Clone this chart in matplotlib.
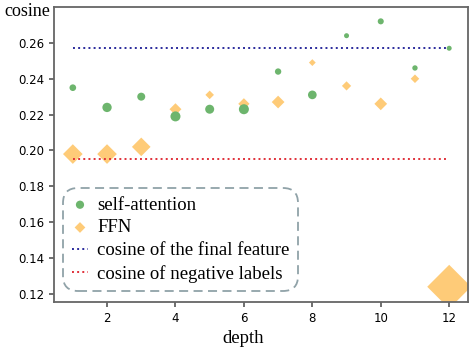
import matplotlib
matplotlib.use('Agg')
import matplotlib.pyplot as plt
import numpy as np

# depth index of each layer
depth = [1, 2, 3, 4, 5, 6, 7, 8, 9, 10, 11, 12]

# self-attention cosine and marker sizes
attn_cos = [0.235, 0.224, 0.230, 0.219, 0.223, 0.223, 0.244, 0.231, 0.264, 0.272, 0.246, 0.257]
attn_size = [23, 45, 33, 52, 42, 52, 21, 39, 13, 19, 15, 13]

# FFN cosine and marker sizes
ffn_cos = [0.198, 0.198, 0.202, 0.223, 0.231, 0.226, 0.227, 0.249, 0.236, 0.226, 0.240, 0.124]
ffn_size = [100, 100, 90, 37, 19, 33, 42, 12, 22, 42, 19, 500]

final_cos = 0.257
neg_cos = 0.195

yticks = [0.12, 0.14, 0.16, 0.18, 0.20, 0.22, 0.24, 0.26]
xticks = [2, 4, 6, 8, 10, 12]

serif = ['Liberation Serif', 'DejaVu Serif']

fig = plt.figure(figsize=(4.74, 3.64), dpi=100)
ax = fig.add_axes([54 / 474, 1 - 302 / 364, 414 / 474, 295 / 364])

ax.scatter(depth, ffn_cos, s=ffn_size, marker='D', color='#fecb78',
           edgecolors='none', label='FFN', zorder=1)
ax.scatter(depth, attn_cos, s=attn_size, marker='o', color='#6db56d',
           edgecolors='none', label='self-attention', zorder=1.5)
ax.plot([depth[0], depth[-1]], [final_cos, final_cos], ls=':', lw=1.4,
        color='#2b2b9c', label='cosine of the final feature', zorder=2)
ax.plot([depth[0], depth[-1]], [neg_cos, neg_cos], ls=':', lw=1.4,
        color='#e0303a', label='cosine of negative labels', zorder=2)

ax.set_xlim(0.45, 12.55)
ax.set_ylim(0.1155, 0.280)
ax.set_xticks(xticks)
ax.set_yticks(yticks)
ax.set_yticklabels(['%.2f' % v for v in yticks])
ax.tick_params(labelsize=8.5, color='#555555', width=1.2, length=3.5)
for sp in ax.spines.values():
    sp.set_color('#666666')
    sp.set_linewidth(1.3)

ax.set_ylabel('cosine', rotation=0, fontsize=13, family=serif, ha='right', va='center')
ax.yaxis.set_label_coords(-0.01, 0.985)
ax.set_xlabel('depth', fontsize=13.5, family=serif)
ax.xaxis.set_label_coords(0.457, -0.095)

handles, labels = ax.get_legend_handles_labels()
order = [1, 0, 2, 3]
lg = ax.legend([handles[i] for i in order], [labels[i] for i in order],
               loc='lower left', bbox_to_anchor=(0.022, 0.037), borderaxespad=0,
               prop={'family': serif, 'size': 13.5}, handlelength=0.9,
               handletextpad=0.48, labelspacing=0.3, borderpad=0.45,
               framealpha=1, fancybox=True)
lg.legend_handles[0].set_sizes([35])
lg.legend_handles[1].set_sizes([30])
frame = lg.get_frame()
frame.set_boxstyle('round', pad=0, rounding_size=0.8)
frame.set_edgecolor('#90a2a8')
frame.set_linestyle((0, (5, 3)))
frame.set_linewidth(1.3)

fig.savefig('out.png', dpi=100)
